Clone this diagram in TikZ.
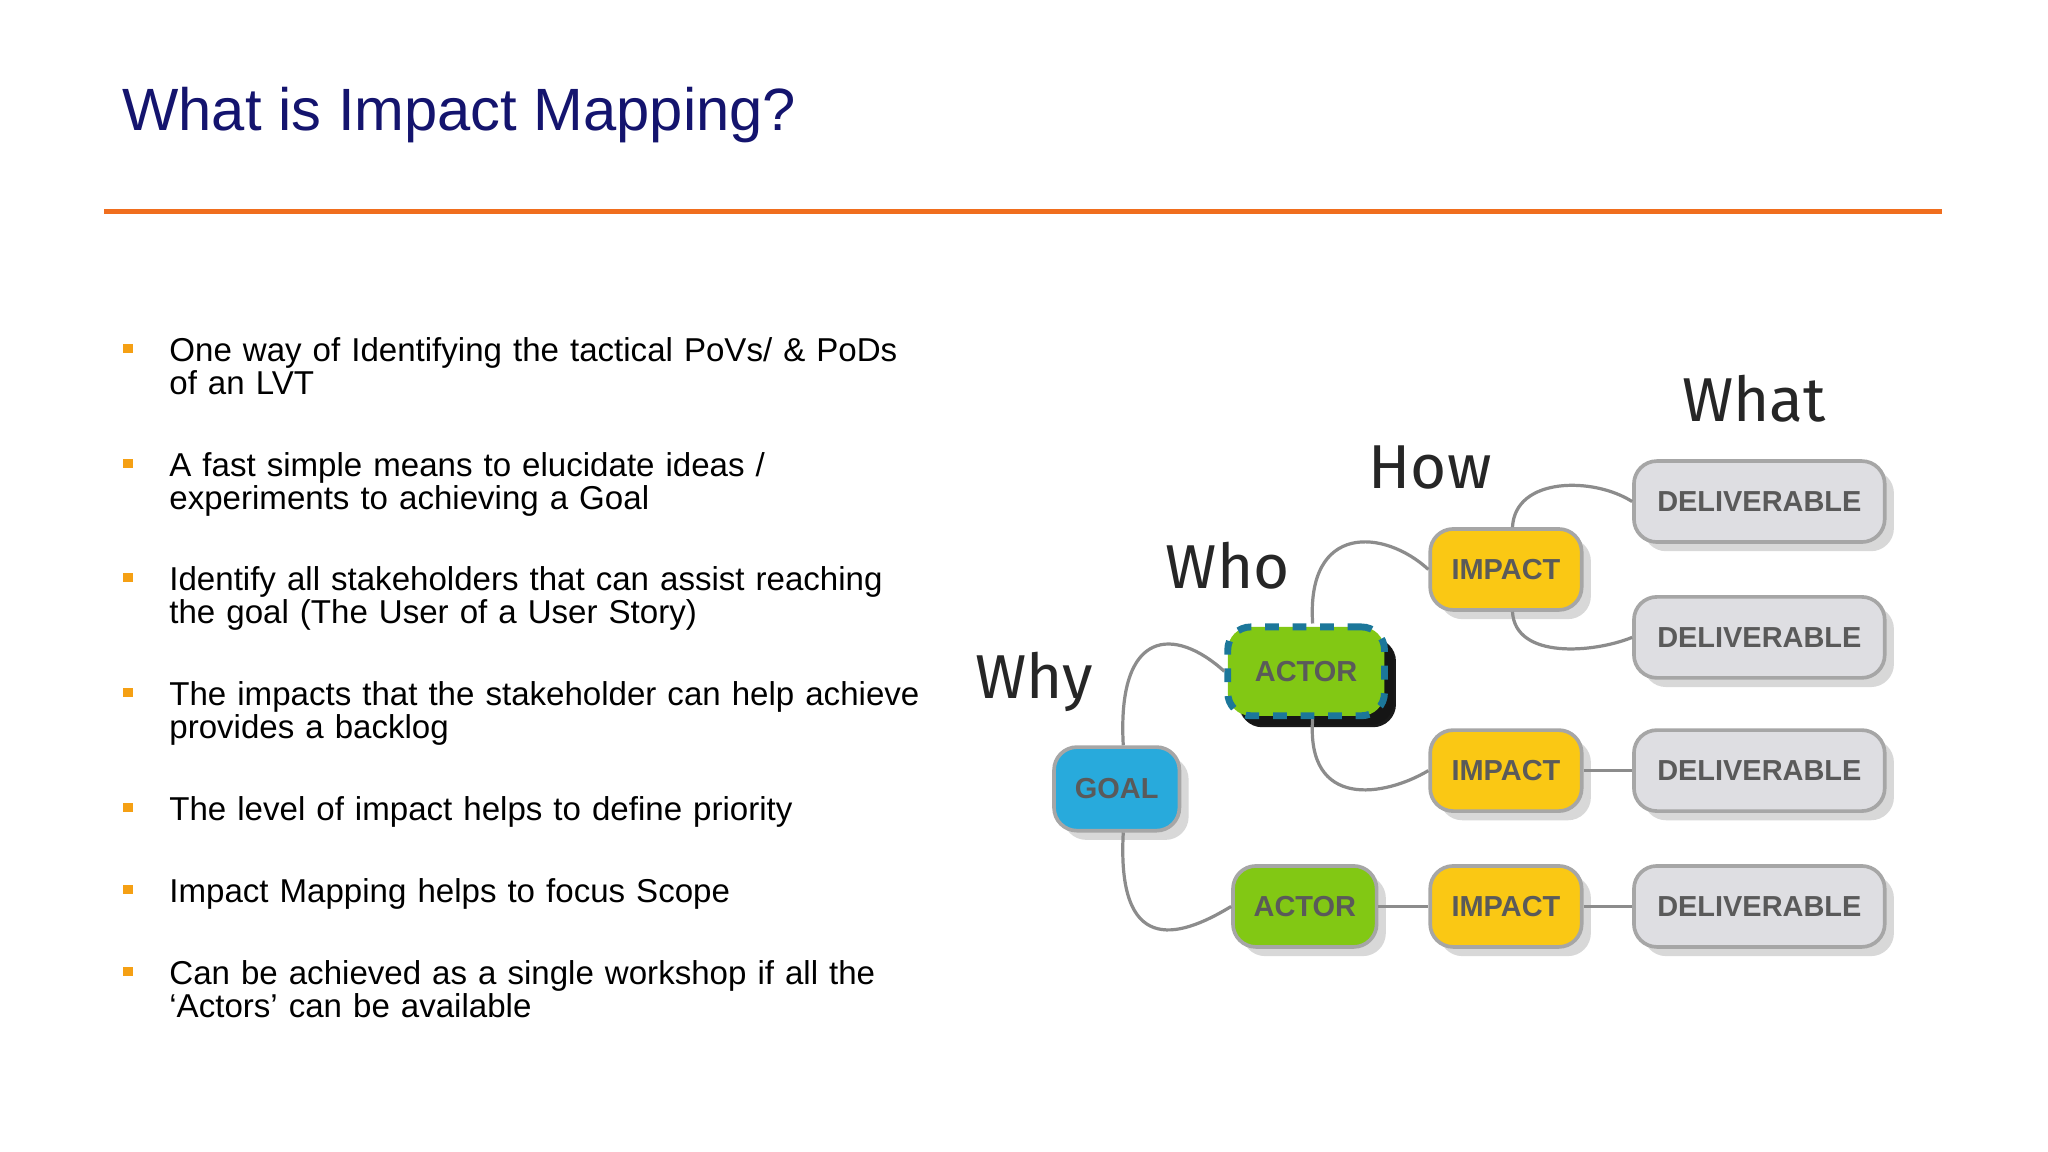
\documentclass[tikz,border=0pt]{standalone}
\usepackage{fontspec}
\setmainfont{Liberation Sans}
\newfontfamily\lblfont{Fira Sans}
\usetikzlibrary{shadows}
\definecolor{navy}{RGB}{20,20,110}
\definecolor{orng}{RGB}{240,110,30}
\definecolor{bulorg}{RGB}{245,160,20}
\definecolor{goalb}{RGB}{40,170,220}
\definecolor{actg}{RGB}{130,200,20}
\definecolor{impy}{RGB}{250,200,20}
\definecolor{delg}{RGB}{222,222,226}
\definecolor{txtg}{RGB}{90,90,90}
\begin{document}
\begin{tikzpicture}[x=0.01cm,y=-0.01cm,
  box/.style={rounded corners=5pt,draw=black!35,line width=0.8pt,font=\fontsize{6.3}{7}\selectfont\bfseries,text=txtg,
     drop shadow={shadow xshift=2pt,shadow yshift=-2pt,fill=black!25,opacity=0.6}},
  goalbox/.style={box,fill=goalb,minimum width=96*0.01cm,minimum height=64*0.01cm},
  actorbox/.style={box,fill=actg,minimum width=110*0.01cm,minimum height=62*0.01cm},
  impbox/.style={box,fill=impy,minimum width=116*0.01cm,minimum height=62*0.01cm},
  delbox/.style={box,fill=delg,minimum width=192*0.01cm,minimum height=62*0.01cm},
  conn/.style={draw=black!45,line width=0.7pt},
  lbl/.style={font=\lblfont\fontsize{13.5}{14}\selectfont,text=black!85},
  bul/.style={anchor=north west,align=left,font=\fontsize{7.2}{7.2}\selectfont,text width=620*0.01cm},
  sq/.style={fill=bulorg,minimum size=7*0.01cm,inner sep=0pt}]
\fill[white!97!black!3] (0,0) rectangle (1568,882);
\useasboundingbox (0,0) rectangle (1568,882);
\node[anchor=base west,text=navy,font=\fontsize{13}{14}\selectfont,inner sep=0pt] (title) at (93,100) {What is Impact Mapping?};
\coordinate (l1) at (80,162); \coordinate (l2) at (1487,162);
\draw[orng,line width=1.2pt] (l1) -- (l2);
\foreach \y/\t [count=\i] in {258/{One way of Identifying the tactical PoVs/ \& PoDs\\of an LVT},
  346/{A fast simple means to elucidate ideas /\\experiments to achieving a Goal},
  433/{Identify all stakeholders that can assist reaching\\the goal (The User of a User Story)},
  521/{The impacts that the stakeholder can help achieve\\provides a backlog},
  609/{The level of impact helps to define priority},
  672/{Impact Mapping helps to focus Scope},
  735/{Can be achieved as a single workshop if all the\\‘Actors’ can be available}}{
  \node[sq] (s\i) at (98,\y+9) {};
  \node[bul,inner sep=0pt] (b\i) at (129,\y) {\t};
}
\node[lbl] (what) at (1343,305) {What};
\node[lbl] (how) at (1095,358) {How};
\node[lbl] (who) at (940,433) {Who};
\node[lbl] (why) at (792,522) {Why};
\node[goalbox] (goal) at (855,604) {GOAL};
\node[actorbox,minimum width=120*0.01cm,minimum height=68*0.01cm,draw=goalb!70!black,dashed,line width=1.5pt,
  drop shadow={shadow xshift=2.5pt,shadow yshift=-2.5pt,fill=black,opacity=0.9}] (a1) at (1000,514) {ACTOR};
\node[actorbox] (a2) at (999,694) {ACTOR};
\node[impbox] (i1) at (1153,436) {IMPACT};
\node[impbox] (i2) at (1153,590) {IMPACT};
\node[impbox] (i3) at (1153,694) {IMPACT};
\node[delbox] (d1) at (1347,384) {DELIVERABLE};
\node[delbox] (d2) at (1347,488) {DELIVERABLE};
\node[delbox] (d3) at (1347,590) {DELIVERABLE};
\node[delbox] (d4) at (1347,694) {DELIVERABLE};
\draw[conn] (goal.north) ++(5,0) .. controls (855,480) and (900,480) .. (a1.west);
\draw[conn] (goal.south) ++(5,0) .. controls (855,730) and (900,720) .. (a2.west);
\draw[conn] (a1.north) ++(5,0) .. controls (1000,400) and (1060,405) .. (i1.west);
\draw[conn] (a1.south) ++(5,0) .. controls (1000,620) and (1060,610) .. (i2.west);
\draw[conn] (i1.north) ++(5,0) .. controls (1160,365) and (1220,365) .. (d1.west);
\draw[conn] (i1.south) ++(5,0) .. controls (1160,505) and (1220,500) .. (d2.west);
\draw[conn] (i2) -- (d3); \draw[conn] (a2) -- (i3); \draw[conn] (i3) -- (d4);
\end{tikzpicture}
\end{document}
